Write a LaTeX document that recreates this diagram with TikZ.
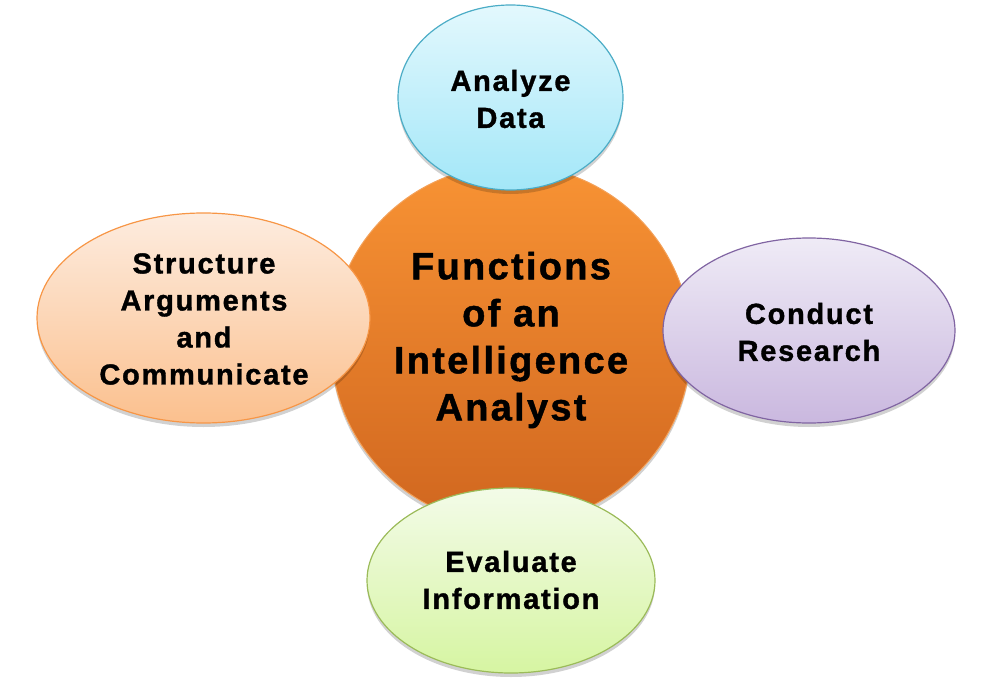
\documentclass[tikz,border=0pt]{standalone}
\usepackage{fontspec}
\setmainfont{Liberation Sans}
\newfontfamily\lblfont[LetterSpace=6,FakeBold=1.2]{Liberation Sans}
\usetikzlibrary{shapes.geometric,shadows}
\definecolor{cTop}{HTML}{F89334}
\definecolor{cBot}{HTML}{D0661F}
\definecolor{cBorder}{HTML}{F3A15A}
\definecolor{bTop}{HTML}{E3F8FD}
\definecolor{bBot}{HTML}{A3E7F8}
\definecolor{bBorder}{HTML}{4BACC6}
\definecolor{oTop}{HTML}{FDECDF}
\definecolor{oBot}{HTML}{FBC08E}
\definecolor{oBorder}{HTML}{F79646}
\definecolor{pTop}{HTML}{EFEBF6}
\definecolor{pBot}{HTML}{CAB8DF}
\definecolor{pBorder}{HTML}{8064A2}
\definecolor{gTop}{HTML}{F3FBE8}
\definecolor{gBot}{HTML}{D6F5A2}
\definecolor{gBorder}{HTML}{9BBB59}
\tikzset{
  softshadow/.style={drop shadow={shadow xshift=0pt,shadow yshift=-4pt,opacity=0.18,fill=black}},
  blob/.style={ellipse,inner sep=0pt,line width=1.2pt,softshadow},
  smalltxt/.style={font=\lblfont\bfseries\fontsize{29}{37}\selectfont,align=center,text=black},
  bigtxt/.style={font=\lblfont\bfseries\fontsize{38}{47}\selectfont,align=center,text=black},
}
\begin{document}
\begin{tikzpicture}[x=1pt,y=-1pt]
\useasboundingbox (0,0) rectangle (1002,685);
% central circle
\node[circle,minimum size=360pt,inner sep=0pt,draw=cBorder,line width=1pt,
      top color=cTop,bottom color=cBot,softshadow] (c) at (511,345) {};
\node[bigtxt] (ct) at (511,340) {Functions\\of an\\Intelligence\\Analyst};
% Analyze Data
\node[blob,minimum width=225pt,minimum height=185pt,draw=bBorder,
      top color=bTop,bottom color=bBot] (a) at (510.5,97.5) {};
\node[smalltxt] (at) at (510.5,99) {Analyze\\Data};
% Structure
\node[blob,minimum width=333pt,minimum height=210pt,draw=oBorder,
      top color=oTop,bottom color=oBot] (s) at (203.5,318) {};
\node[smalltxt] (st) at (204,319) {Structure\\Arguments\\and\\Communicate};
% Conduct
\node[blob,minimum width=292pt,minimum height=185pt,draw=pBorder,
      top color=pTop,bottom color=pBot] (r) at (809,330.5) {};
\node[smalltxt] (rt) at (809,332) {Conduct\\Research};
% Evaluate
\node[blob,minimum width=288pt,minimum height=185pt,draw=gBorder,
      top color=gTop,bottom color=gBot] (e) at (511,580.5) {};
\node[smalltxt] (et) at (511,580) {Evaluate\\Information};
\end{tikzpicture}
\end{document}
